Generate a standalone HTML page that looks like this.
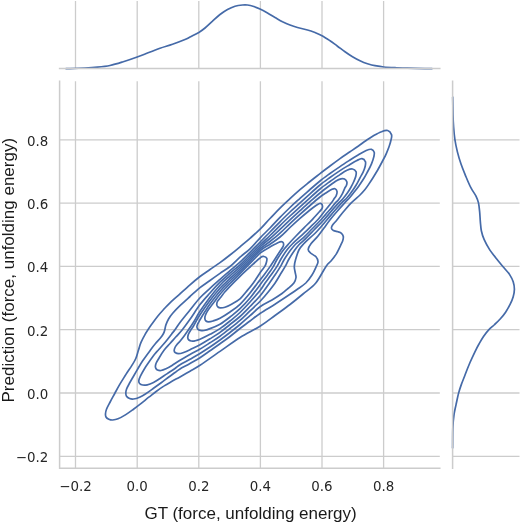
<!DOCTYPE html>
<html lang="en"><head><meta charset="utf-8"><title>Joint KDE plot</title>
<style>
html,body{margin:0;padding:0;background:#fff;}
body{width:520px;height:524px;overflow:hidden;}
svg{display:block;}
</style></head><body>
<svg width="520" height="524" viewBox="0 0 520 524">
<rect width="520" height="524" fill="#fff"/>
<g stroke="#cccccc" stroke-width="1.30" fill="none">
<path d="M75.5 81.2V468.2"/>
<path d="M75.5 1.0V68.6"/>
<path d="M137.2 81.2V468.2"/>
<path d="M137.2 1.0V68.6"/>
<path d="M198.8 81.2V468.2"/>
<path d="M198.8 1.0V68.6"/>
<path d="M260.4 81.2V468.2"/>
<path d="M260.4 1.0V68.6"/>
<path d="M322.0 81.2V468.2"/>
<path d="M322.0 1.0V68.6"/>
<path d="M383.6 81.2V468.2"/>
<path d="M383.6 1.0V68.6"/>
<path d="M59.6 456.3H439.8"/>
<path d="M452.6 456.3H519.5"/>
<path d="M59.6 393.0H439.8"/>
<path d="M452.6 393.0H519.5"/>
<path d="M59.6 329.7H439.8"/>
<path d="M452.6 329.7H519.5"/>
<path d="M59.6 266.4H439.8"/>
<path d="M452.6 266.4H519.5"/>
<path d="M59.6 203.1H439.8"/>
<path d="M452.6 203.1H519.5"/>
<path d="M59.6 139.9H439.8"/>
<path d="M452.6 139.9H519.5"/>
</g>
<g stroke="#456aa8" stroke-width="1.70" fill="none" stroke-linejoin="round" stroke-linecap="round">
<path d="M66.0 68.6C66.7 68.6 66.8 68.7 70.0 68.6C73.2 68.5 80.4 68.2 85.0 68.0C89.6 67.8 93.3 67.6 97.5 67.2C101.7 66.8 105.8 66.4 110.0 65.5C114.2 64.6 118.0 63.4 122.5 62.0C127.0 60.6 133.1 58.5 137.2 57.0C141.4 55.5 143.7 54.5 147.5 53.0C151.3 51.5 155.8 49.7 160.0 48.2C164.2 46.7 168.3 45.7 172.5 44.2C176.7 42.8 182.1 40.7 185.0 39.5C187.9 38.3 187.7 38.2 190.0 37.0C192.3 35.8 196.2 34.0 198.8 32.5C201.2 31.0 202.7 29.9 205.0 28.0C207.3 26.1 210.0 23.4 212.5 21.2C215.0 18.9 217.5 16.4 220.0 14.5C222.5 12.6 225.0 10.9 227.5 9.5C230.0 8.1 232.5 7.0 235.0 6.2C237.5 5.5 240.4 5.2 242.5 5.0C244.6 4.8 245.6 4.8 247.5 5.0C249.4 5.2 251.7 5.8 253.8 6.5C255.8 7.2 257.7 7.9 260.0 9.0C262.3 10.1 265.0 11.6 267.5 13.0C270.0 14.4 272.5 16.1 275.0 17.5C277.5 18.9 280.0 20.4 282.5 21.7C285.0 22.9 287.5 24.0 290.0 25.0C292.5 26.0 294.6 26.7 297.5 27.5C300.4 28.3 304.6 29.2 307.5 30.0C310.4 30.8 312.6 31.6 315.0 32.5C317.4 33.5 319.5 34.3 322.0 35.7C324.5 37.1 327.4 39.0 330.0 40.7C332.6 42.5 335.0 44.4 337.5 46.2C340.0 48.0 342.5 50.0 345.0 51.7C347.5 53.5 350.0 55.2 352.5 56.7C355.0 58.2 357.5 59.5 360.0 60.7C362.5 61.9 365.0 62.9 367.5 63.7C370.0 64.5 372.3 65.2 375.0 65.7C377.7 66.2 380.4 66.7 383.8 67.0C387.1 67.3 391.0 67.5 395.0 67.7C399.0 67.9 402.5 68.1 407.5 68.2C412.5 68.3 420.9 68.5 425.0 68.6C429.1 68.7 430.8 68.6 432.0 68.6"/>
<path d="M452.7 97.0C452.8 100.0 452.9 109.7 453.0 114.7C453.1 119.7 453.3 122.9 453.6 127.0C453.9 131.1 454.3 135.3 454.9 139.5C455.5 143.7 456.4 147.8 457.4 151.9C458.4 156.0 459.7 160.2 461.1 164.3C462.5 168.4 464.4 172.8 466.0 176.7C467.6 180.6 469.3 184.7 471.0 187.9C472.7 191.2 474.8 193.7 476.0 196.2C477.2 198.7 477.9 200.2 478.5 202.9C479.1 205.6 479.4 209.1 479.7 212.3C480.0 215.5 480.1 219.2 480.4 222.3C480.7 225.4 480.8 228.1 481.4 231.0C482.0 233.9 482.8 236.5 484.2 239.6C485.6 242.7 487.5 246.3 489.6 249.6C491.8 252.9 494.8 256.6 497.1 259.5C499.4 262.4 501.2 264.5 503.3 267.0C505.4 269.5 507.9 271.9 509.5 274.4C511.1 276.9 512.4 279.3 513.2 281.8C514.0 284.3 514.4 286.8 514.4 289.3C514.4 291.8 513.9 294.2 513.2 296.7C512.5 299.2 511.5 301.5 510.2 304.1C508.9 306.7 507.2 309.9 505.6 312.3C504.0 314.8 502.2 316.8 500.4 318.8C498.6 320.8 496.6 322.7 494.6 324.5C492.7 326.3 490.6 327.8 488.7 329.8C486.8 331.8 485.1 334.1 483.5 336.5C481.9 338.9 480.5 341.4 479.0 344.0C477.5 346.6 476.2 349.2 474.7 352.3C473.2 355.4 471.6 358.8 470.0 362.5C468.4 366.2 466.6 370.8 465.2 374.5C463.8 378.2 462.4 381.5 461.3 384.6C460.2 387.7 459.5 389.8 458.6 393.1C457.7 396.4 456.9 400.8 456.1 404.3C455.4 407.8 454.6 410.5 454.1 414.2C453.6 417.9 453.1 421.0 452.9 426.6C452.6 432.2 452.7 444.4 452.6 448.0"/>
<path d="M105.5 413.8C105.6 412.5 105.7 411.2 106.5 409.2C107.3 407.1 109.0 404.2 110.4 401.5C111.8 398.8 113.5 395.8 115.0 393.0C116.5 390.2 117.8 387.7 119.6 384.6C121.4 381.5 123.8 377.8 125.8 374.6C127.8 371.4 130.2 368.1 131.9 365.4C133.6 362.7 134.7 361.1 135.8 358.5C136.9 355.9 137.6 352.7 138.5 350.0C139.4 347.3 139.8 345.0 141.0 342.3C142.2 339.6 143.7 336.8 145.4 333.8C147.2 330.9 149.4 327.5 151.5 324.6C153.6 321.7 155.6 318.8 157.7 316.2C159.8 313.6 161.8 311.4 163.8 309.2C165.9 307.0 167.3 305.4 170.0 302.8C172.7 300.2 176.7 296.8 180.0 293.8C183.3 290.8 186.7 287.7 190.0 284.8C193.3 281.9 196.7 279.1 200.0 276.5C203.3 273.9 206.7 271.8 210.0 269.5C213.3 267.2 216.7 265.0 220.0 262.6C223.3 260.2 226.7 257.6 230.0 255.0C233.3 252.4 236.7 249.6 240.0 246.8C243.3 244.0 246.6 241.3 250.0 238.3C253.4 235.3 257.1 232.2 260.4 228.9C263.7 225.6 266.7 221.9 270.0 218.5C273.3 215.1 276.7 211.5 280.0 208.2C283.3 204.9 286.7 201.8 290.0 198.7C293.3 195.6 296.7 192.6 300.0 189.7C303.3 186.8 306.7 184.2 310.0 181.5C313.3 178.8 316.7 176.2 320.0 173.6C323.3 171.0 326.7 168.5 330.0 166.0C333.3 163.5 336.7 161.0 340.0 158.6C343.3 156.2 346.9 153.9 350.0 151.8C353.1 149.7 355.8 147.9 358.5 146.0C361.2 144.1 363.6 142.2 366.2 140.5C368.8 138.8 371.2 137.1 373.8 135.6C376.4 134.1 379.2 132.5 381.5 131.7C383.8 130.8 386.0 130.0 387.7 130.5C389.4 131.0 390.9 133.0 391.5 134.6C392.1 136.2 391.4 138.1 391.0 140.0C390.6 141.9 390.0 143.9 389.2 146.2C388.4 148.5 387.3 151.2 386.2 153.8C385.1 156.4 383.7 158.8 382.3 161.5C380.9 164.2 379.2 167.3 377.7 170.0C376.1 172.7 374.5 175.3 373.0 177.7C371.5 180.1 369.9 182.5 368.5 184.6C367.1 186.7 366.0 188.3 364.6 190.0C363.2 191.7 362.3 192.8 360.0 195.0C357.7 197.2 353.7 200.3 351.0 203.1C348.3 205.8 346.0 208.7 343.6 211.5C341.2 214.3 338.7 217.8 336.9 220.0C335.1 222.2 333.8 223.3 332.9 224.6C332.0 225.9 331.3 227.0 331.4 228.0C331.5 229.0 332.3 230.0 333.4 230.6C334.5 231.2 336.6 231.4 338.0 231.8C339.4 232.2 340.6 232.5 341.5 233.3C342.4 234.1 343.1 235.3 343.3 236.5C343.5 237.7 343.1 239.4 342.7 240.7C342.3 242.0 342.2 242.0 341.2 244.2C340.2 246.3 338.2 250.8 336.5 253.6C334.8 256.4 332.8 258.9 331.0 261.0C329.2 263.1 328.5 262.7 326.0 266.4C323.5 270.1 319.6 278.4 315.8 283.0C311.9 287.6 307.3 290.4 303.0 294.0C298.7 297.6 294.7 300.9 290.0 304.5C285.3 308.1 279.9 311.9 275.0 315.5C270.1 319.1 266.2 322.3 260.4 326.0C254.6 329.7 246.7 333.3 240.0 337.5C233.3 341.7 226.7 346.8 220.0 351.4C213.3 356.0 205.0 362.0 200.0 365.3C195.0 368.6 193.3 369.3 190.0 371.2C186.7 373.1 183.0 375.2 180.0 376.9C177.0 378.6 174.6 379.8 172.0 381.3C169.4 382.8 166.8 384.2 164.2 385.9C161.6 387.5 159.1 389.3 156.5 391.2C153.9 393.1 151.4 395.2 148.8 397.2C146.2 399.2 143.8 401.4 141.2 403.4C138.6 405.4 136.1 407.3 133.5 409.2C130.9 411.1 128.4 413.0 125.8 414.6C123.2 416.2 120.2 417.9 118.0 418.8C115.8 419.7 114.2 419.9 112.7 420.0C111.2 420.1 109.9 419.7 108.8 419.2C107.7 418.7 106.5 417.9 106.0 417.0C105.5 416.1 105.4 415.1 105.5 413.8Z"/>
<path d="M125.8 393.0C125.8 391.8 125.9 390.9 126.5 389.2C127.1 387.5 128.4 385.2 129.6 383.0C130.8 380.8 132.1 378.6 133.5 376.2C134.9 373.8 136.5 371.1 138.0 368.5C139.5 365.9 140.6 363.9 142.7 360.8C144.8 357.7 148.4 352.9 150.5 350.0C152.6 347.1 153.8 345.5 155.5 343.5C157.2 341.5 159.3 339.5 160.6 337.8C161.9 336.1 162.8 334.8 163.5 333.5C164.2 332.2 164.4 331.3 164.8 329.8C165.2 328.3 165.3 326.4 166.0 324.6C166.7 322.8 167.6 320.7 168.7 318.8C169.8 316.9 170.8 315.5 172.7 313.3C174.6 311.1 177.1 308.5 180.0 305.7C182.9 302.9 186.7 299.5 190.0 296.5C193.3 293.5 196.7 290.4 200.0 287.7C203.3 285.0 206.7 282.9 210.0 280.5C213.3 278.1 216.7 275.7 220.0 273.4C223.3 271.1 226.7 269.2 230.0 266.5C233.3 263.8 236.7 260.1 240.0 257.2C243.3 254.2 246.6 252.1 250.0 248.8C253.4 245.5 257.1 241.1 260.4 237.6C263.7 234.1 266.7 231.4 270.0 228.0C273.3 224.6 276.7 220.8 280.0 217.4C283.3 214.0 286.7 210.7 290.0 207.5C293.3 204.3 296.7 201.3 300.0 198.3C303.3 195.3 306.7 192.4 310.0 189.5C313.3 186.6 316.7 183.7 320.0 181.0C323.3 178.3 326.7 175.9 330.0 173.5C333.3 171.1 336.7 168.8 340.0 166.6C343.3 164.3 346.9 162.0 350.0 160.0C353.1 158.0 355.8 156.4 358.5 154.8C361.2 153.2 364.0 151.4 366.2 150.5C368.4 149.6 370.2 149.0 371.5 149.3C372.8 149.6 373.8 151.0 374.2 152.3C374.6 153.6 374.2 155.0 373.8 156.9C373.4 158.8 372.5 161.4 371.5 163.8C370.5 166.2 369.0 169.1 367.7 171.5C366.4 173.9 365.2 176.2 363.8 178.5C362.4 180.8 360.7 183.2 359.2 185.4C357.7 187.6 356.2 189.5 354.6 191.5C353.0 193.5 351.5 195.6 349.8 197.5C348.1 199.4 346.6 200.8 344.5 203.1C342.4 205.4 339.4 208.7 337.0 211.5C334.6 214.3 332.1 217.2 329.9 220.0C327.7 222.8 326.0 225.3 324.0 228.0C322.0 230.7 320.2 233.3 318.0 236.0C315.8 238.7 312.4 241.8 310.8 244.0C309.2 246.2 308.2 247.8 308.2 249.3C308.1 250.8 309.2 251.8 310.5 253.0C311.8 254.2 314.8 255.4 316.0 256.8C317.2 258.2 317.9 259.9 318.0 261.5C318.1 263.1 317.3 264.1 316.3 266.4C315.3 268.6 313.8 272.2 312.0 275.0C310.2 277.8 308.2 280.6 305.8 283.0C303.2 285.4 299.6 287.6 297.0 289.5C294.4 291.4 293.7 291.9 290.0 294.3C286.3 296.8 279.9 301.1 275.0 304.2C270.1 307.3 264.6 310.4 260.4 313.2C256.2 316.0 253.4 318.4 250.0 321.0C246.6 323.6 243.3 325.9 240.0 328.5C236.7 331.1 233.3 333.9 230.0 336.5C226.7 339.1 223.3 341.4 220.0 343.8C216.7 346.2 213.3 348.5 210.0 350.8C206.7 353.1 203.3 355.6 200.0 357.7C196.7 359.8 193.3 361.6 190.0 363.5C186.7 365.4 182.5 367.4 180.0 368.9C177.5 370.4 176.9 371.1 175.0 372.5C173.1 373.9 171.1 375.3 168.8 377.0C166.5 378.7 163.8 380.8 161.2 382.7C158.6 384.6 156.1 386.4 153.5 388.3C150.9 390.2 148.1 392.3 145.8 393.8C143.5 395.3 141.7 396.3 139.6 397.2C137.5 398.1 135.2 398.8 133.5 399.0C131.8 399.2 130.8 399.0 129.6 398.5C128.4 398.0 127.1 397.1 126.5 396.2C125.9 395.3 125.8 394.2 125.8 393.0Z"/>
<path d="M138.8 380.8C138.9 379.6 139.5 378.1 140.4 376.2C141.3 374.3 142.8 371.5 144.2 369.2C145.6 366.9 147.0 364.9 148.8 362.3C150.6 359.7 153.3 355.9 155.0 353.8C156.7 351.7 157.0 351.6 158.8 349.5C160.6 347.4 163.7 344.1 165.8 341.5C167.9 338.9 170.0 336.1 171.5 334.2C173.0 332.2 173.6 331.8 175.0 329.8C176.4 327.9 177.5 325.8 180.0 322.5C182.5 319.2 186.7 314.1 190.0 310.0C193.3 305.9 196.7 301.3 200.0 297.7C203.3 294.1 206.7 291.4 210.0 288.3C213.3 285.2 216.7 282.3 220.0 279.4C223.3 276.4 226.7 273.5 230.0 270.6C233.3 267.7 236.7 265.2 240.0 262.2C243.3 259.1 246.6 255.7 250.0 252.3C253.4 248.9 257.1 245.2 260.4 241.8C263.7 238.4 266.7 235.3 270.0 232.0C273.3 228.7 276.7 225.1 280.0 221.8C283.3 218.5 286.7 215.2 290.0 212.0C293.3 208.8 296.7 205.9 300.0 202.9C303.3 199.9 306.7 196.8 310.0 193.8C313.3 190.8 316.7 187.7 320.0 185.0C323.3 182.3 326.7 179.9 330.0 177.5C333.3 175.1 336.7 172.8 340.0 170.6C343.3 168.4 347.2 166.2 350.0 164.5C352.8 162.8 354.9 161.5 356.9 160.5C358.9 159.5 360.6 158.5 362.0 158.7C363.4 158.9 364.9 160.4 365.4 161.7C365.9 162.9 365.6 164.4 365.2 166.2C364.8 168.0 363.9 170.4 363.0 172.3C362.1 174.2 361.1 175.7 360.0 177.8C358.9 179.9 357.6 182.6 356.2 185.0C354.8 187.4 353.1 189.8 351.5 192.0C349.9 194.2 348.5 196.2 346.8 198.0C345.1 199.8 343.6 200.8 341.5 203.1C339.4 205.3 336.4 208.7 334.0 211.5C331.6 214.3 329.8 216.6 326.8 220.0C323.9 223.4 320.2 228.0 316.3 232.0C312.4 236.0 306.4 241.0 303.5 244.0C300.6 247.0 300.2 247.4 298.9 250.0C297.6 252.6 296.4 256.8 295.6 259.5C294.8 262.2 294.4 264.2 294.3 266.4C294.2 268.6 294.9 270.6 295.2 272.5C295.5 274.4 296.2 275.8 296.0 277.5C295.8 279.2 295.2 281.2 293.9 283.0C292.6 284.8 290.0 286.8 288.0 288.5C286.0 290.2 284.7 291.6 282.0 293.5C279.3 295.4 275.6 297.8 272.0 300.0C268.4 302.2 264.1 303.9 260.4 306.5C256.7 309.1 253.4 312.7 250.0 315.7C246.6 318.7 243.3 321.7 240.0 324.5C236.7 327.3 233.3 329.9 230.0 332.5C226.7 335.1 223.3 337.6 220.0 340.0C216.7 342.4 213.3 344.8 210.0 347.0C206.7 349.2 203.3 351.4 200.0 353.4C196.7 355.4 193.3 357.3 190.0 359.2C186.7 361.1 182.5 363.1 180.0 364.7C177.5 366.2 177.1 367.0 175.0 368.5C172.9 370.0 169.9 371.9 167.3 373.6C164.7 375.3 161.9 377.3 159.6 378.8C157.3 380.3 155.6 381.5 153.5 382.5C151.4 383.5 149.1 384.4 147.3 384.8C145.5 385.2 144.0 385.2 142.7 385.0C141.4 384.8 140.2 384.2 139.6 383.5C138.9 382.8 138.7 382.0 138.8 380.8Z"/>
<path d="M155.4 366.2C155.5 365.3 155.6 364.4 156.2 363.0C156.8 361.6 157.9 359.9 159.2 357.7C160.5 355.5 162.4 352.4 164.2 350.0C166.0 347.6 168.0 345.7 170.0 343.5C172.0 341.3 173.9 339.1 176.0 336.8C178.1 334.5 180.2 332.4 182.5 329.5C184.8 326.6 187.1 323.4 190.0 319.3C192.9 315.2 196.7 309.0 200.0 304.6C203.3 300.2 206.7 296.7 210.0 293.0C213.3 289.3 216.7 285.5 220.0 282.2C223.3 278.9 226.7 276.1 230.0 273.2C233.3 270.3 236.7 267.9 240.0 264.8C243.3 261.7 246.6 258.2 250.0 254.8C253.4 251.4 257.1 247.7 260.4 244.5C263.7 241.3 266.7 238.7 270.0 235.5C273.3 232.3 276.7 228.8 280.0 225.6C283.3 222.3 286.7 219.1 290.0 216.0C293.3 212.9 296.7 209.9 300.0 206.9C303.3 203.9 306.7 200.8 310.0 197.8C313.3 194.8 316.7 191.7 320.0 189.0C323.3 186.3 326.7 183.9 330.0 181.5C333.3 179.1 337.2 176.5 340.0 174.6C342.8 172.7 344.9 171.2 347.0 170.3C349.1 169.4 351.0 168.8 352.5 169.0C354.0 169.2 355.4 170.4 356.0 171.6C356.6 172.8 356.2 174.5 355.8 176.2C355.4 177.8 354.6 179.6 353.8 181.5C353.0 183.4 351.9 185.5 350.8 187.5C349.7 189.5 348.4 191.6 347.0 193.5C345.6 195.4 344.1 197.4 342.7 199.0C341.3 200.6 340.4 201.0 338.5 203.1C336.6 205.2 333.4 208.7 331.0 211.5C328.6 214.3 326.6 216.9 323.8 220.0C321.0 223.1 317.3 226.6 314.0 230.0C310.7 233.4 306.5 237.8 304.0 240.2C301.5 242.6 300.7 242.9 299.2 244.5C297.7 246.1 296.5 247.6 294.8 250.0C293.1 252.4 290.6 256.3 289.0 259.0C287.4 261.7 286.7 263.7 285.2 266.4C283.7 269.1 281.7 272.2 280.0 275.0C278.3 277.8 277.1 280.1 275.1 283.0C273.1 285.9 270.4 289.3 268.0 292.3C265.6 295.3 263.4 297.9 260.4 301.0C257.4 304.1 253.4 307.7 250.0 310.9C246.6 314.1 243.3 317.5 240.0 320.4C236.7 323.3 233.3 325.9 230.0 328.5C226.7 331.1 223.3 333.8 220.0 336.2C216.7 338.6 213.3 340.7 210.0 342.8C206.7 344.9 203.3 347.1 200.0 349.0C196.7 350.9 193.3 352.6 190.0 354.5C186.7 356.4 183.0 358.5 180.0 360.3C177.0 362.1 174.3 364.1 172.0 365.5C169.7 366.9 167.8 368.0 166.0 368.8C164.2 369.6 162.4 370.3 161.0 370.5C159.6 370.7 158.4 370.4 157.5 370.0C156.6 369.6 156.2 368.9 155.8 368.3C155.5 367.7 155.3 367.1 155.4 366.2Z"/>
<path d="M174.2 350.8C174.1 349.9 174.5 348.6 175.0 347.5C175.5 346.4 176.2 345.5 177.0 344.5C177.8 343.5 178.8 342.8 180.0 341.3C181.2 339.8 183.1 337.4 184.5 335.5C185.9 333.6 186.9 332.1 188.5 329.8C190.1 327.5 192.1 324.6 194.0 321.5C195.9 318.4 197.3 315.3 200.0 311.3C202.7 307.3 206.7 301.7 210.0 297.3C213.3 292.9 216.7 288.8 220.0 285.2C223.3 281.6 226.7 278.8 230.0 275.8C233.3 272.8 236.7 270.1 240.0 267.0C243.3 263.9 246.6 260.4 250.0 257.0C253.4 253.6 257.1 249.6 260.4 246.5C263.7 243.4 266.7 241.3 270.0 238.5C273.3 235.7 276.7 232.5 280.0 229.4C283.3 226.3 286.7 222.9 290.0 219.8C293.3 216.7 296.7 213.7 300.0 210.7C303.3 207.7 306.7 204.6 310.0 201.7C313.3 198.8 316.7 195.7 320.0 193.0C323.3 190.3 327.3 187.3 330.0 185.3C332.7 183.3 334.2 182.1 336.0 181.0C337.8 179.9 339.6 179.1 341.0 178.8C342.4 178.5 343.5 178.5 344.5 179.0C345.5 179.5 346.6 180.9 346.9 182.0C347.2 183.1 346.7 184.6 346.4 185.5C346.1 186.4 345.8 186.1 345.1 187.5C344.4 188.9 343.4 191.8 342.3 193.9C341.2 196.0 339.5 198.5 338.3 200.0C337.1 201.5 336.3 201.8 335.2 203.1C334.1 204.4 333.1 205.8 331.5 207.7C329.9 209.6 327.3 212.5 325.5 214.6C323.7 216.7 323.0 217.7 320.8 220.0C318.6 222.3 315.3 225.7 312.5 228.5C309.7 231.3 306.8 234.5 304.0 237.1C301.2 239.7 298.0 241.8 295.8 244.0C293.6 246.2 292.5 247.5 290.6 250.0C288.7 252.5 286.2 256.3 284.5 259.0C282.8 261.7 282.2 263.7 280.6 266.4C279.0 269.1 276.9 272.2 275.0 275.0C273.1 277.8 271.9 279.6 269.5 283.0C267.1 286.4 263.6 291.6 260.4 295.5C257.1 299.4 253.4 303.0 250.0 306.5C246.6 310.0 243.3 313.5 240.0 316.5C236.7 319.5 233.3 321.9 230.0 324.5C226.7 327.1 223.3 330.0 220.0 332.4C216.7 334.8 213.3 336.8 210.0 338.8C206.7 340.9 203.3 342.9 200.0 344.7C196.7 346.5 192.8 348.3 190.0 349.7C187.2 351.1 184.9 352.1 183.0 352.8C181.1 353.5 179.8 353.7 178.5 353.7C177.2 353.7 176.2 353.3 175.5 352.8C174.8 352.3 174.3 351.7 174.2 350.8Z"/>
<path d="M187.8 338.0C187.7 337.1 187.9 335.8 188.3 334.5C188.8 333.2 189.6 331.9 190.5 330.5C191.4 329.1 192.5 327.7 193.5 326.0C194.5 324.3 195.4 322.4 196.5 320.5C197.6 318.6 197.8 318.1 200.0 314.8C202.2 311.5 206.7 304.9 210.0 300.5C213.3 296.1 216.7 291.9 220.0 288.2C223.3 284.5 226.7 281.6 230.0 278.4C233.3 275.2 236.7 272.4 240.0 269.2C243.3 266.0 246.6 262.6 250.0 259.2C253.4 255.8 257.1 251.4 260.4 248.5C263.7 245.6 266.7 244.1 270.0 241.5C273.3 238.9 276.7 236.2 280.0 233.2C283.3 230.2 286.7 226.7 290.0 223.6C293.3 220.5 296.7 217.4 300.0 214.4C303.3 211.4 306.7 208.4 310.0 205.5C313.3 202.6 317.2 199.2 320.0 197.0C322.8 194.8 325.0 193.6 327.0 192.3C329.0 191.0 330.7 189.9 332.0 189.3C333.3 188.7 334.2 188.4 335.0 188.7C335.8 189.0 336.8 190.2 337.0 191.3C337.2 192.4 336.8 194.2 336.3 195.4C335.9 196.6 335.2 197.2 334.3 198.5C333.4 199.8 332.9 200.9 331.2 203.1C329.5 205.3 326.6 208.7 324.3 211.5C322.0 214.3 319.8 217.5 317.5 220.0C315.2 222.5 313.1 224.4 310.8 226.6C308.6 228.8 307.1 230.3 304.0 233.2C300.9 236.1 295.2 241.2 292.3 244.0C289.4 246.8 288.8 247.5 286.9 250.0C285.0 252.5 282.6 256.3 281.0 259.0C279.4 261.7 278.7 263.7 277.0 266.4C275.3 269.1 273.0 272.2 271.0 275.0C269.0 277.8 266.9 280.5 265.1 283.0C263.3 285.5 262.9 286.8 260.4 290.0C257.9 293.2 253.4 298.2 250.0 302.0C246.6 305.8 243.3 309.3 240.0 312.5C236.7 315.7 233.3 318.3 230.0 321.0C226.7 323.7 223.3 326.4 220.0 328.6C216.7 330.8 213.3 332.5 210.0 334.3C206.7 336.1 202.5 338.1 200.0 339.2C197.5 340.3 196.4 340.5 195.0 340.8C193.6 341.1 192.3 341.1 191.3 341.0C190.3 340.9 189.5 340.5 188.9 340.0C188.3 339.5 187.9 338.9 187.8 338.0Z"/>
<path d="M196.9 327.0C196.8 326.2 197.2 325.2 197.5 324.3C197.8 323.4 198.6 322.4 199.0 321.7C199.4 320.9 199.0 321.5 200.0 319.8C201.0 318.1 203.3 314.1 205.0 311.5C206.7 308.9 207.5 307.4 210.0 304.0C212.5 300.6 216.7 295.0 220.0 291.2C223.3 287.4 226.7 284.3 230.0 281.0C233.3 277.7 236.7 274.7 240.0 271.4C243.3 268.1 246.6 264.8 250.0 261.3C253.4 257.8 257.1 253.3 260.4 250.5C263.7 247.7 266.7 246.4 270.0 244.2C273.3 241.9 276.7 239.8 280.0 237.0C283.3 234.2 286.7 230.6 290.0 227.5C293.3 224.4 296.7 221.3 300.0 218.4C303.3 215.5 307.3 212.2 310.0 210.0C312.7 207.8 314.4 206.6 316.0 205.5C317.6 204.4 318.6 203.8 319.5 203.5C320.4 203.2 321.0 203.4 321.5 203.8C322.0 204.2 322.4 205.2 322.5 206.0C322.6 206.8 322.5 207.6 322.0 208.5C321.5 209.4 321.1 209.8 319.4 211.7C317.7 213.6 314.4 217.4 311.8 220.1C309.2 222.8 306.6 225.2 304.0 227.8C301.4 230.5 298.6 233.3 296.0 236.0C293.4 238.7 290.6 241.7 288.5 244.0C286.4 246.3 285.3 247.5 283.4 250.0C281.5 252.5 279.0 256.3 277.3 259.0C275.6 261.7 275.0 263.7 273.4 266.4C271.8 269.1 269.5 272.2 267.5 275.0C265.5 277.8 264.3 279.2 261.4 283.0C258.5 286.8 253.6 293.7 250.0 298.0C246.4 302.3 243.3 305.5 240.0 308.7C236.7 311.9 233.3 314.4 230.0 317.0C226.7 319.6 223.3 322.3 220.0 324.2C216.7 326.1 212.7 327.6 210.0 328.6C207.3 329.7 205.6 330.2 204.0 330.5C202.4 330.8 201.3 330.6 200.3 330.4C199.3 330.2 198.6 329.9 198.0 329.3C197.4 328.7 197.0 327.8 196.9 327.0Z"/>
<path d="M204.9 318.8C204.8 317.9 204.8 317.0 205.2 315.8C205.5 314.6 206.2 313.2 207.0 311.8C207.8 310.4 208.7 309.3 210.0 307.5C211.3 305.7 213.3 303.2 215.0 301.0C216.7 298.8 217.5 297.1 220.0 294.2C222.5 291.3 226.7 286.9 230.0 283.5C233.3 280.1 236.7 276.9 240.0 273.6C243.3 270.3 246.6 266.9 250.0 263.5C253.4 260.1 257.1 255.7 260.4 252.9C263.7 250.2 267.4 248.5 270.0 247.0C272.6 245.5 274.3 244.5 276.0 243.7C277.7 242.8 278.9 242.2 280.0 241.9C281.1 241.6 281.9 241.6 282.5 242.0C283.1 242.4 283.6 243.3 283.6 244.1C283.7 244.9 283.5 245.7 282.8 247.0C282.1 248.3 280.8 250.0 279.5 252.0C278.2 254.0 276.6 256.6 275.0 259.0C273.4 261.4 272.0 263.7 270.2 266.4C268.4 269.1 266.1 272.2 264.0 275.0C261.9 277.8 259.9 280.0 257.6 283.0C255.3 286.0 252.9 289.4 250.0 293.0C247.1 296.6 243.3 301.1 240.0 304.3C236.7 307.5 233.3 309.7 230.0 312.0C226.7 314.3 222.8 316.7 220.0 318.2C217.2 319.7 214.9 320.4 213.0 321.0C211.1 321.6 209.7 321.8 208.5 321.8C207.3 321.8 206.6 321.5 206.0 321.0C205.4 320.5 205.0 319.7 204.9 318.8Z"/>
<path d="M216.8 305.0C216.7 304.2 216.9 302.8 217.2 302.0C217.5 301.2 217.8 301.0 218.5 300.0C219.2 299.0 220.4 297.6 221.5 296.2C222.6 294.8 223.6 293.4 225.0 291.8C226.4 290.2 227.5 288.9 230.0 286.3C232.5 283.7 236.7 279.5 240.0 276.3C243.3 273.1 246.6 270.1 250.0 267.0C253.4 263.9 258.1 259.4 260.4 257.7C262.7 255.9 262.9 256.4 264.0 256.5C265.1 256.6 266.4 257.4 266.8 258.3C267.2 259.2 266.8 260.6 266.5 262.0C266.2 263.4 265.8 264.7 264.8 266.4C263.8 268.1 262.3 269.5 260.4 272.3C258.5 275.1 255.7 279.7 253.3 283.0C250.9 286.3 248.2 289.4 246.0 292.0C243.8 294.6 242.3 296.9 240.0 298.9C237.7 300.9 234.5 302.6 232.0 304.0C229.5 305.4 226.9 306.7 225.0 307.3C223.1 307.9 221.7 307.9 220.5 307.9C219.3 307.8 218.6 307.5 218.0 307.0C217.4 306.5 216.9 305.8 216.8 305.0Z"/>
</g>
<g stroke="#cccccc" stroke-width="1.50" fill="none" stroke-linecap="square">
<path d="M59.6 81.2V468.2H439.8"/>
<path d="M59.6 68.6H439.8"/>
<path d="M452.6 81.2V468.2"/>
</g>
<g font-family="'DejaVu Sans', sans-serif" font-size="13.40" fill="#262626">
<text x="75.5" y="490.9" text-anchor="middle">−0.2</text>
<text x="137.2" y="490.9" text-anchor="middle">0.0</text>
<text x="198.8" y="490.9" text-anchor="middle">0.2</text>
<text x="260.4" y="490.9" text-anchor="middle">0.4</text>
<text x="322.0" y="490.9" text-anchor="middle">0.6</text>
<text x="383.6" y="490.9" text-anchor="middle">0.8</text>
<text x="48.2" y="462.3" text-anchor="end">−0.2</text>
<text x="48.2" y="399.0" text-anchor="end">0.0</text>
<text x="48.2" y="335.7" text-anchor="end">0.2</text>
<text x="48.2" y="272.4" text-anchor="end">0.4</text>
<text x="48.2" y="209.1" text-anchor="end">0.6</text>
<text x="48.2" y="145.9" text-anchor="end">0.8</text>
</g>
<g font-family="'Liberation Sans', Arial, sans-serif" font-size="17.00" fill="#1a1a1a">
<text x="250.6" y="518.5" text-anchor="middle">GT (force, unfolding energy)</text>
<text transform="translate(13.7 270.2) rotate(-90)" text-anchor="middle">Prediction (force, unfolding energy)</text>
</g>
</svg>
</body></html>
